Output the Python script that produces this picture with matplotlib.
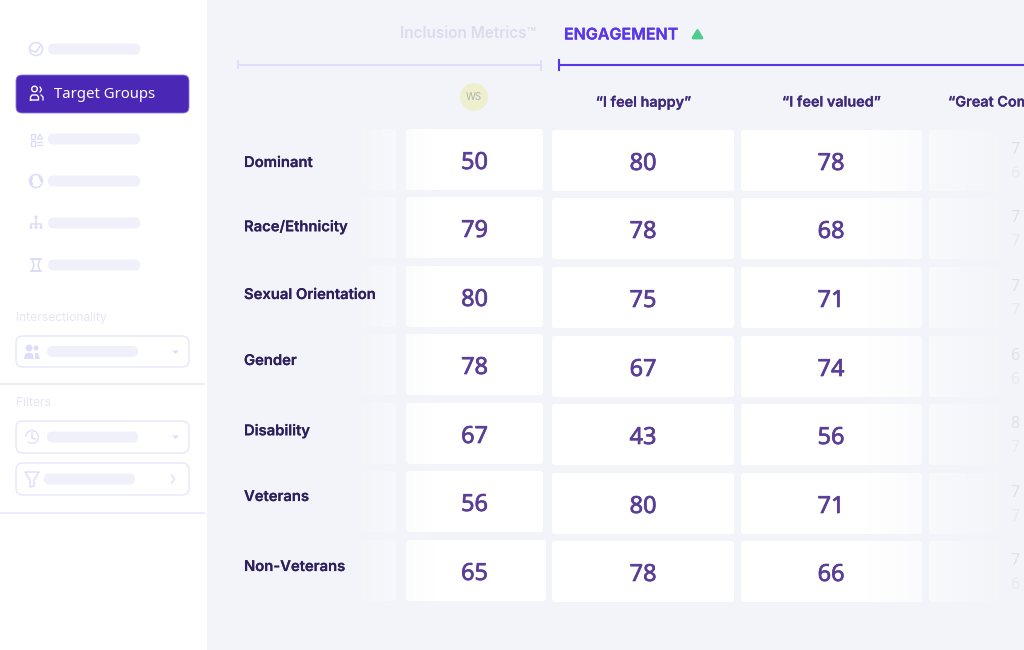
import numpy as np
import matplotlib
matplotlib.use("Agg")
import matplotlib.pyplot as plt
import matplotlib.patheffects as pe
from matplotlib.patches import FancyBboxPatch, Circle, Polygon, Rectangle, Wedge

# ---- data ----
groups = ["Dominant", "Race/Ethnicity", "Sexual Orientation", "Gender", "Disability", "Veterans", "Non-Veterans"]
ws_scores = [50, 79, 80, 78, 67, 56, 65]
happy_scores = [80, 78, 75, 67, 43, 80, 78]
valued_scores = [78, 68, 71, 74, 56, 71, 66]
faded_top = ["7", "7", "7", "6", "8", "7", "7"]
faded_bottom = ["6", "7", "7", "6", "7", "7", "6"]
column_heads = ["\u201cI feel happy\u201d", "\u201cI feel valued\u201d", "\u201cGreat Com"]

# ---- layout (pixels) ----
BG = "#f3f4f9"
CELLS_WS_TOP = [129, 197, 266, 334, 403, 471, 540]
CELLS_TOP = [130, 198, 267, 336, 404, 473, 541]
LABEL_Y = [163, 227, 295, 361, 431, 497, 567]
CELL_H = 61

def px(s):
    return s * 0.72

def heavy(color, w=0.45):
    return [pe.withStroke(linewidth=w, foreground=color)]

fig = plt.figure(figsize=(10.24, 6.5), dpi=100, facecolor="white")
ax = fig.add_axes([0, 0, 1, 1])
ax.set_axis_off()

def rrect(x0, y0, x1, y1, r=3, fc="white", ec="none", lw=0, z=2):
    p = FancyBboxPatch((x0 + r, y0 + r), x1 - x0 - 2 * r, y1 - y0 - 2 * r,
                       boxstyle=f"round,pad={r},rounding_size={r}",
                       fc=fc, ec=ec, lw=lw, zorder=z)
    ax.add_patch(p)
    return p

def gradient_cell(x0, y0, x1, y1, a0, a1, stops=(0.0, 1.0), r=3, z=2):
    """white cell whose opacity goes a0 -> a1 from left to right"""
    p = rrect(x0, y0, x1, y1, r=r, fc="none", z=z)
    t = np.linspace(0, 1, 256)
    al = np.interp(t, stops, [a0, a1])
    img = np.ones((1, 256, 4))
    img[0, :, 3] = al
    im = ax.imshow(img, extent=(x0, x1, y1, y0), aspect="auto", zorder=z, interpolation="bilinear")
    im.set_clip_path(p)

# panel background
ax.add_patch(Rectangle((207, 0), 817, 650, fc=BG, ec="none", zorder=1))

# sidebar pills
PILL = "#f0f0fb"
ICON = "#dcdcfa"
for yc in [49, 139, 181, 223, 265]:
    rrect(48, yc - 5.5, 140, yc + 5.5, r=5.4, fc=PILL)

# sidebar icons
ax.add_patch(Circle((36, 49), 6.5, fc="none", ec=ICON, lw=1.1, zorder=3))
ax.plot([30, 36, 40], [50, 52, 46], color=ICON, lw=1.1, zorder=3)
for (x, y) in [(30.5, 134), (30.5, 141)]:
    ax.add_patch(Rectangle((x, y), 4.5, 4.5, fc="none", ec=ICON, lw=1.0, zorder=3))
ax.add_patch(Polygon([[37.5, 139], [40, 134], [42.5, 139]], fc="none", ec=ICON, lw=1.0, zorder=3))
ax.plot([37, 42], [142, 142], color=ICON, lw=1.0, zorder=3)
ax.plot([37, 42], [145, 145], color=ICON, lw=1.0, zorder=3)
ax.add_patch(Circle((36, 181), 6.5, fc="none", ec=ICON, lw=1.1, zorder=3))
ax.add_patch(Wedge((36, 181), 6, 130, 230, width=2.2, fc=ICON, ec="none", zorder=3))
ax.add_patch(Wedge((36, 181), 6, -60, 10, width=2, fc=ICON, ec="none", zorder=3))
ax.add_patch(Circle((36, 217), 1.6, fc=ICON, ec="none", zorder=3))
ax.plot([36, 36], [218, 228], color=ICON, lw=1.1, zorder=3)
ax.plot([31, 31, 41, 41], [227, 224, 224, 227], color=ICON, lw=1.1, zorder=3)
for x in (31, 36, 41):
    ax.add_patch(Circle((x, 227.5), 1.5, fc=ICON, ec="none", zorder=3))
ax.add_patch(Polygon([[32, 259], [40, 259], [38, 265], [40, 271], [32, 271], [34, 265]],
                     fc="none", ec=ICON, lw=1.2, zorder=3))
ax.plot([31, 41], [259, 259], color=ICON, lw=1.2, zorder=3)
ax.plot([31, 41], [271, 271], color=ICON, lw=1.2, zorder=3)

# active button
rrect(16, 75, 189, 113, r=6, fc="#4a27b5", ec="#8d77d8", lw=0.6, z=3)
ax.add_patch(Circle((34.5, 89), 2.8, fc="none", ec="white", lw=1.0, zorder=4))
ax.plot([30.5, 30.5, 32, 37, 38.5, 38.5, 30.5], [100, 97, 95, 95, 97, 100, 100], color="white", lw=1.0, zorder=4)
ax.plot([40, 41.5, 40], [87, 89.5, 92], color="white", lw=0.9, zorder=4)
ax.plot([41, 43, 43], [95, 97, 100], color="white", lw=0.9, zorder=4)
ax.text(54, 94, "Target Groups", family="Noto Sans", fontsize=px(14.9), color="white", va="center", zorder=4)

# sidebar filters
LIGHT = "#e6e5f6"
ax.text(16, 317.5, "Intersectionality", family="Inter", fontsize=px(12.1), color=LIGHT, va="center", zorder=3)
ax.text(16, 402.5, "Filters", family="Inter", fontsize=px(12.1), color=LIGHT, va="center", zorder=3)
for y0, y1, pill0, pill1 in [(336, 367, 47, 138), (421, 453, 47, 138), (463, 495, 44, 135)]:
    rrect(16, y0, 189, y1, r=7, fc="white", ec="#e8e6fc", lw=1.0)
    yc = (y0 + y1) / 2
    rrect(pill0, yc - 5.5, pill1, yc + 5.5, r=5.4, fc=PILL, z=3)
for yc in (352, 437):
    ax.add_patch(Polygon([[172, yc - 1.5], [179, yc - 1.5], [175.5, yc + 2]], fc="#e0dffa", ec="none", zorder=3))
ax.plot([171.5, 174.5, 171.5], [475, 479, 483], color="#e0dffa", lw=1.0, zorder=3)
# people icon
for x, r in ((29, 3.4), (36, 2.6)):
    ax.add_patch(Circle((x, 348), r, fc="#dfdefa", ec="none", zorder=3))
ax.add_patch(Polygon([[24, 359], [25, 354], [29, 352.5], [33, 354], [34, 359]], fc="#dfdefa", ec="none", zorder=3))
ax.add_patch(Polygon([[35, 359], [35, 353], [38, 353], [40, 359]], fc="#dfdefa", ec="none", zorder=3))
# clock icon
ax.add_patch(Wedge((32, 437), 7, -180, 130, width=1.3, fc="#e0dffa", ec="none", zorder=3))
ax.plot([32, 32, 35], [433, 438, 439], color="#e0dffa", lw=1.1, zorder=3)
# funnel icon
ax.add_patch(Polygon([[25, 472], [39, 472], [34, 480], [34, 486], [30, 487], [30, 480]],
                     fc="none", ec="#e0dffa", lw=1.1, zorder=3))
for y in (384, 513):
    ax.plot([0, 205], [y, y], color="#ecebfd", lw=1.3, zorder=2, solid_capstyle="butt")

# top headers
ax.text(400, 33.5, "Inclusion Metrics\u2122", family="Inter", fontweight="semibold", fontsize=px(15.3),
        color="#dcdbed", va="center", zorder=3)
ax.text(564, 35, "ENGAGEMENT", family="Inter", fontweight="semibold", fontsize=px(16),
        color="#5a36e6", va="center", zorder=3, path_effects=heavy("#5a36e6", 0.2))
ax.add_patch(Polygon([[693, 38], [697.5, 30.5], [702, 38]], fc="#4ecb8f", ec="#4ecb8f", lw=2,
                     joinstyle="round", zorder=3))

ax.plot([238, 541], [65, 65], color="#e0dcfb", lw=1.5, zorder=3, solid_capstyle="butt")
ax.plot([238, 238], [61, 68], color="#e0dcfb", lw=1.3, zorder=3)
ax.plot([541, 541], [61, 70], color="#e0dcfb", lw=1.3, zorder=3)
ax.plot([559, 1024], [65, 65], color="#5a36e6", lw=1.5, zorder=3, solid_capstyle="butt")
ax.plot([559, 559], [60, 70], color="#5a36e6", lw=1.5, zorder=3)

# WS badge
ax.add_patch(Circle((474, 97), 14, fc="#eef0cd", ec="none", zorder=3))
ax.text(474, 97.5, "WS", family="Inter", fontsize=px(10), color="#b2b2b2", ha="center", va="center", zorder=4)

# column heads
HEAD = "#3f2a7c"
for x, label, ha in zip([643.5, 831.5, 948], column_heads, ["center", "center", "left"]):
    ax.text(x, 102.5, label, family="Inter", fontweight="semibold", fontsize=px(14.4),
            color=HEAD, ha=ha, va="center", zorder=3, path_effects=heavy(HEAD, 0.12))

# table
NUM = "#5a3e96"
num_kw = dict(family="Noto Sans", fontsize=px(23.5), color=NUM, ha="center", va="center", zorder=4,
              path_effects=heavy(NUM, 0.5))
for i, name in enumerate(groups):
    t_ws, t = CELLS_WS_TOP[i], CELLS_TOP[i]
    ax.text(244, LABEL_Y[i], name, family="Inter", fontweight="semibold", fontsize=px(14.8),
            color="#2e1f5e", va="center", zorder=3, path_effects=heavy("#2e1f5e", 0.12))
    # faint cell left of WS
    gradient_cell(352, t_ws, 396, t_ws + CELL_H, 0.0, 0.4)
    # WS
    x1 = 546 if i == 6 else 543
    gradient_cell(406, t_ws, x1, t_ws + CELL_H, 0.75, 1.0, stops=(0.0, 0.2))
    ax.text(474.5, t_ws + 34, str(ws_scores[i]), **num_kw)
    # happy, valued
    gradient_cell(552, t, 734, t + CELL_H, 1.0, 1.0)
    ax.text(643, t + 34, str(happy_scores[i]), **num_kw)
    gradient_cell(741, t, 922, t + CELL_H, 1.0, 0.65, stops=(0.7, 1.0))
    ax.text(831, t + 34, str(valued_scores[i]), **num_kw)
    # faded column
    gradient_cell(929, t, 1012, t + CELL_H, 0.5, 0.0)
    ax.text(1015, t + 20, faded_top[i], family="Noto Sans", fontsize=px(16), color="#e0e0e9",
            ha="center", va="center", zorder=4)
    ax.text(1015, t + 44, faded_bottom[i], family="Noto Sans", fontsize=px(16), color="#e9e9f0",
            ha="center", va="center", zorder=4)

ax.set_xlim(0, 1024)
ax.set_ylim(650, 0)
fig.savefig("out.png", dpi=100, facecolor="white")
